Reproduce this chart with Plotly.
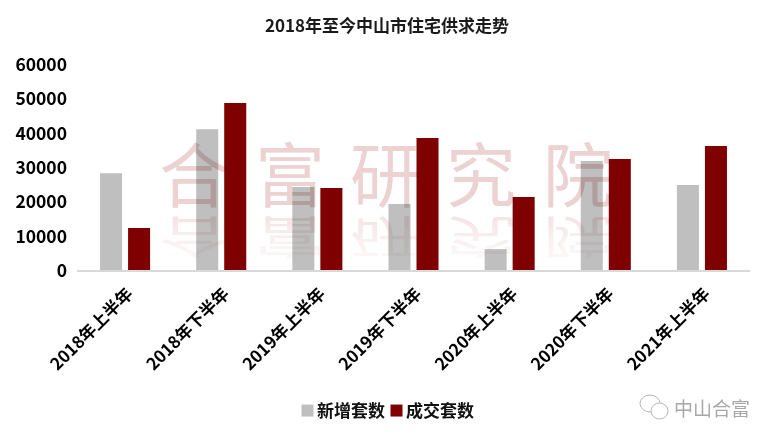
import plotly.graph_objects as go

categories = ["2018年上半年", "2018年下半年", "2019年上半年", "2019年下半年", "2020年上半年", "2020年下半年", "2021年上半年"]
new_units = [28150, 41000, 24170, 19220, 6100, 31750, 24760]
sold_units = [12230, 48650, 23880, 38450, 21260, 32330, 36100]
y_ticks = [0, 10000, 20000, 30000, 40000, 50000, 60000]
title_text = "2018年至今中山市住宅供求走势"
wm_chars = ["合", "富", "研", "究", "院"]
wm_x = [194, 290, 385, 481, 578]
FONT = "Noto Sans CJK SC"
W, H = 774, 441
L, R, T, B = 77, 24, 64, 171

def to_x(p): return (p - L) / (W - L - R)
def to_y(p): return 1 - (p - T) / (H - T - B)

fig = go.Figure()
fig.add_bar(name="新增套数", x=categories, y=new_units, marker_color="#bfbfbf", marker_line_width=0)
fig.add_bar(name="成交套数", x=categories, y=sold_units, marker_color="#7f0000", marker_line_width=0)

annotations = []
for ch, px in zip(wm_chars, wm_x):
    annotations.append(dict(text=ch, x=to_x(px), y=to_y(171), xref="paper", yref="paper", showarrow=False,
                            xanchor="center", yanchor="middle", font=dict(family=FONT, size=70, color="#ecd2d2")))
for ch, px in zip(wm_chars, wm_x):
    annotations.append(dict(text=ch, x=to_x(px), y=to_y(171), xref="paper", yref="paper", showarrow=False,
                            xanchor="center", yanchor="middle", font=dict(family=FONT, size=70, color="#f6e9e9")))
annotations.append(dict(text="中山合富", x=to_x(712), y=to_y(407), xref="paper", yref="paper", showarrow=False,
                        xanchor="center", yanchor="middle", font=dict(family=FONT, size=19, color="#a8a8a8")))

shapes = [
    dict(type="circle", xref="paper", yref="paper", x0=to_x(640), x1=to_x(660), y0=to_y(412), y1=to_y(395),
         line=dict(color="#b5b5b5", width=1), fillcolor="white"),
    dict(type="circle", xref="paper", yref="paper", x0=to_x(651), x1=to_x(668), y0=to_y(419), y1=to_y(403),
         line=dict(color="#b5b5b5", width=1), fillcolor="white"),
]

fig.update_layout(
    width=W, height=H, margin=dict(l=L, r=R, t=T, b=B, autoexpand=False),
    paper_bgcolor="white", plot_bgcolor="white", barmode="group", bargap=0.417, bargroupgap=0.214,
    showlegend=True,
    title=dict(text=title_text, x=387 / W, xanchor="center", y=1 - 26 / H, yanchor="middle",
               font=dict(family=FONT, size=17, color="#1a1a1a", weight=700)),
    legend=dict(orientation="h", x=to_x(387), xanchor="center", y=to_y(411), yanchor="middle",
                font=dict(family=FONT, size=17, color="#111111", weight=700), bgcolor="rgba(0,0,0,0)"),
    annotations=annotations, shapes=shapes,
    xaxis=dict(tickangle=-45, showline=True, linecolor="#d9d9d9", linewidth=2, ticks="", showgrid=False,
               ticklabelstandoff=5, ticklabelshift=3,
               tickfont=dict(family=FONT, size=17, color="#000000", weight=700)),
    yaxis=dict(range=[0, 60000], tickvals=y_ticks, tickformat="d", showgrid=False, zeroline=False, showline=False,
               ticks="", ticklabelstandoff=9, ticklabelshift=1,
               tickfont=dict(family=FONT, size=17.5, color="#000000", weight=700)),
)

post = """
document.body.style.margin = '0';
var gd = document.getElementsByClassName('plotly-graph-div')[0];
var anns = gd.querySelectorAll('.annotation');
var svgNS = 'http://www.w3.org/2000/svg';
var svg = gd.querySelector('.main-svg');
var defs = svg.querySelector('defs') || svg.appendChild(document.createElementNS(svgNS,'defs'));
var g = document.createElementNS(svgNS,'linearGradient');
g.setAttribute('id','wmfade'); g.setAttribute('x1','0'); g.setAttribute('y1','0'); g.setAttribute('x2','0'); g.setAttribute('y2','1');
[['0','#ffffff'],['0.5','#f9f0f0'],['1','#f2dfdf']].forEach(function(s){var st=document.createElementNS(svgNS,'stop');st.setAttribute('offset',s[0]);st.setAttribute('stop-color',s[1]);g.appendChild(st);});
defs.appendChild(g);
for (var i = 0; i < 10; i++) {
  var a = anns[i];
  a.style.mixBlendMode = 'multiply';
  a.style.filter = 'blur(0.7px)';
  var parentSvg = a.ownerSVGElement;
  if (parentSvg) parentSvg.style.mixBlendMode = 'multiply';
  if (i >= 5) {
    var t = a.querySelector('text');
    t.style.fill = 'url(#wmfade)';
    a.setAttribute('transform','translate(0,351.45) scale(1,-0.65)');
  }
}
var targets = [317, 406];
var items = gd.querySelectorAll('.legend .traces');
items.forEach(function(it, k){
  var txt = it.querySelector('text');
  var dx = targets[k] - txt.getBoundingClientRect().left;
  var m = /translate\\(([-\\d.]+)[ ,]+([-\\d.]+)\\)/.exec(it.getAttribute('transform'));
  it.setAttribute('transform','translate(' + (parseFloat(m[1]) + dx) + ',' + m[2] + ')');
  it.querySelector('.legendsymbols').setAttribute('transform','translate(10.5,0)');
});
var clip = gd.querySelector('.legend .scrollbox');
if (clip) clip.removeAttribute('clip-path');
"""
fig.write_html("out.html", post_script=post, config=dict(displayModeBar=False))
